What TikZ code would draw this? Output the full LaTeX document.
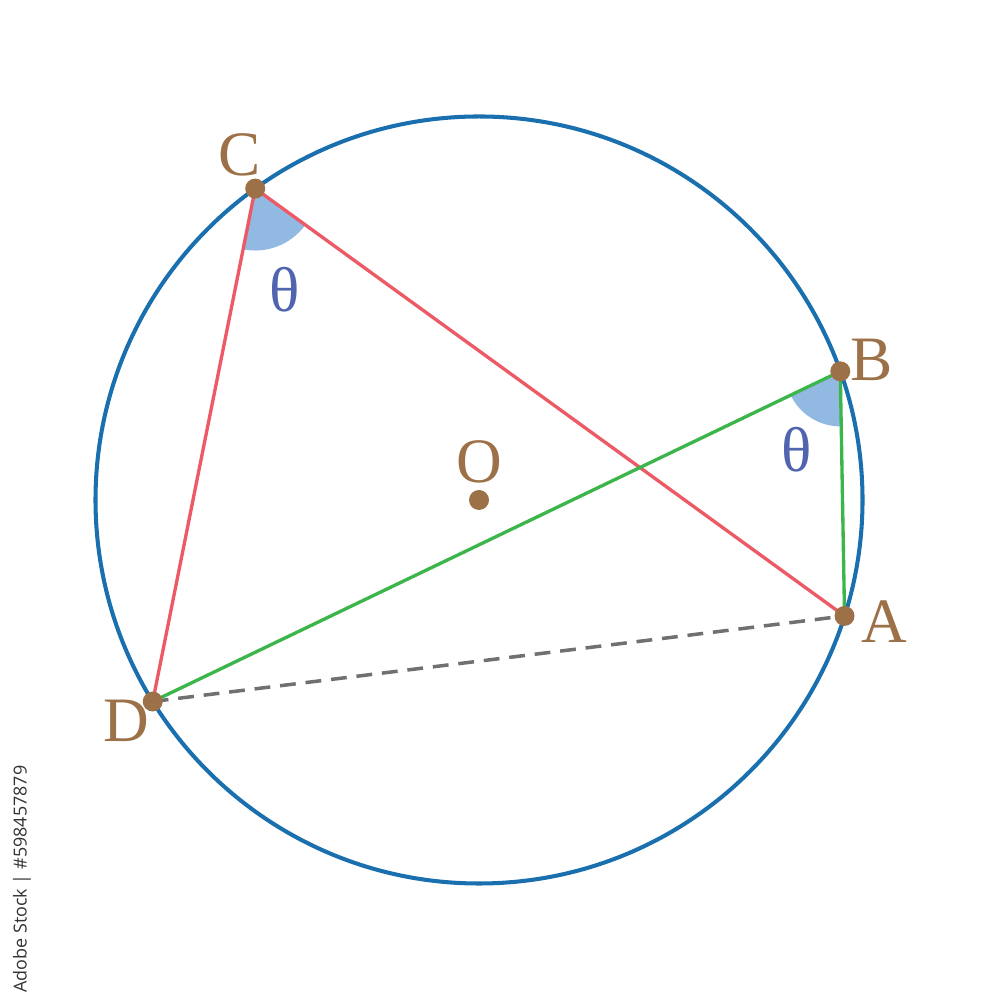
\documentclass[tikz,border=0pt]{standalone}
\usepackage{fontspec}
\usetikzlibrary{calc}
\setmainfont{Liberation Serif}
\newfontfamily\wmfont{Open Sans}
\definecolor{circ}{HTML}{1A6FAE}
\definecolor{redl}{HTML}{EC5B65}
\definecolor{greenl}{HTML}{3CB54A}
\definecolor{grayl}{HTML}{707070}
\definecolor{brownp}{HTML}{9C7148}
\definecolor{angfill}{HTML}{92B9E2}
\definecolor{thetac}{HTML}{5064B0}
\tikzset{
  dot/.style={circle,fill=brownp,inner sep=0pt,minimum size=0.2cm},
  ptlabel/.style={text=brownp,font=\fontsize{18}{20}\selectfont,inner sep=0pt},
  thlabel/.style={text=thetac,font=\fontsize{18}{20}\selectfont,inner sep=0pt},
  redline/.style={draw=redl,line width=0.95pt},
  greenline/.style={draw=greenl,line width=0.95pt},
  dashline/.style={draw=grayl,line width=1pt,dash pattern=on 4.5pt off 2.8pt}
}
\begin{document}
\begin{tikzpicture}
\useasboundingbox (0,0) rectangle (10,10);
\coordinate (O) at (4.79,5.00);
\coordinate (C) at ($(O)+(125.7:3.835)$);
\coordinate (B) at ($(O)+(19.6:3.835)$);
\coordinate (A) at ($(O)+(-17.6:3.835)$);
\coordinate (D) at ($(O)+(211.7:3.835)$);
% angle sectors
\fill[angfill] (C) -- ($(C)!0.62cm!(D)$) arc[start angle={-101.2}, end angle={-36.0}, radius=0.62cm] -- cycle;
\fill[angfill] (B) -- ($(B)!0.55cm!(D)$) arc[start angle={205.6}, end angle={270.7}, radius=0.55cm] -- cycle;
% circle
\draw[circ,line width=1.15pt] (O) circle (3.835);
% chords
\draw[dashline] (D) -- (A);
\draw[redline] (C) -- (D);
\draw[redline] (C) -- (A);
\draw[greenline] (B) -- (D);
\draw[greenline] (B) -- (A);
% dots
\node[dot] (dO) at (O) {};
\node[dot] (dC) at (C) {};
\node[dot] (dB) at (B) {};
\node[dot] (dA) at (A) {};
\node[dot] (dD) at (D) {};
% labels
\node[ptlabel] (lC) at (2.40,8.45) {C};
\node[ptlabel] (lB) at (8.72,6.40) {B};
\node[ptlabel] (lA) at (8.84,3.78) {A};
\node[ptlabel] (lD) at (1.26,2.79) {D};
\node[ptlabel] (lO) at (4.79,5.38) {O};
\node[thlabel] (t1) at (2.85,7.10) {θ};
\node[thlabel] (t2) at (7.97,5.50) {θ};
% watermark id
\node[rotate=90,anchor=east,text=black!80,font=\wmfont\fontsize{5.1}{6}\selectfont,inner sep=0pt] (wm) at (0.22,2.35) {Adobe Stock | \#598457879};
\end{tikzpicture}
\end{document}
